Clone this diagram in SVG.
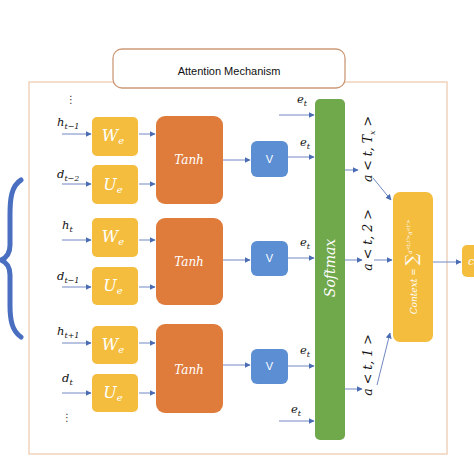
<svg xmlns="http://www.w3.org/2000/svg" width="474" height="474" viewBox="0 0 474 474">
<defs>
<marker id="ah" viewBox="0 0 10 10" refX="9" refY="5" markerWidth="6" markerHeight="6" markerUnits="userSpaceOnUse" orient="auto"><path d="M0,0 L10,5 L0,10 z" fill="#4a6cb3"/></marker>
<style>
.ar{stroke:#7088c2;stroke-width:1;fill:none;marker-end:url(#ah)}
.y{fill:#f4bd3e}
.o{fill:#df7c3c}
.b{fill:#5b8ed3}
.g{fill:#70a84c}
.wt{fill:#fff;font-family:"DejaVu Serif","Liberation Serif",serif;font-style:italic;text-anchor:middle}
.lb{fill:#111;font-family:"DejaVu Serif","Liberation Serif",serif;font-style:italic;font-size:11.5px}
.rl{fill:#111;font-family:"DejaVu Serif","Liberation Serif",serif;font-style:italic;font-size:12.5px;text-anchor:middle}
.dt{fill:#333;font-family:"DejaVu Sans",sans-serif;font-size:10px}
</style>
</defs>
<rect width="474" height="474" fill="#fff"/>
<!-- brace -->
<path d="M21 180 C11 186 10 200 10 215 L10 245 C10 254 6 258 1 260 C6 262 10 266 10 275 L10 305 C10 320 12 331 21 337" fill="none" stroke="#4a6fc1" stroke-width="5" stroke-linecap="round"/>
<!-- outer frame -->
<rect x="29" y="82" width="418" height="372" fill="none" stroke="#efd2bd" stroke-width="1.5"/>
<g id="title"><rect x="113" y="49" width="232" height="39" rx="9" fill="#fff" stroke="#cd9a78" stroke-width="1.3"/>
<text x="229" y="75" font-family="Liberation Sans,Arial,sans-serif" font-size="11" text-anchor="middle" fill="#111">Attention Mechanism</text></g>
<text class="dt" x="66" y="103">⋮</text>
<text class="dt" x="62" y="421">⋮</text>
<g id="connectors">
<path class="ar" d="M62 134 H91"/><path class="ar" d="M62 184 H91"/>
<path class="ar" d="M139 134 H155"/><path class="ar" d="M139 184 H155"/>
<path class="ar" d="M223 160 H250"/><path class="ar" d="M288 157 H314"/>
<path class="ar" d="M279 115 H314"/>
<path class="ar" d="M62 240 H91"/><path class="ar" d="M62 287 H91"/>
<path class="ar" d="M139 240 H155"/><path class="ar" d="M139 287 H155"/>
<path class="ar" d="M223 260 H250"/><path class="ar" d="M288 258 H314"/>
<path class="ar" d="M62 343 H91"/><path class="ar" d="M62 393 H91"/>
<path class="ar" d="M139 343 H155"/><path class="ar" d="M139 393 H155"/>
<path class="ar" d="M223 365 H250"/><path class="ar" d="M288 366 H314"/>
<path class="ar" d="M279 421 H314"/>
<path class="ar" d="M345 170 H358"/><path class="ar" d="M373 178 L391 200"/>
<path class="ar" d="M345 260 H362"/><path class="ar" d="M374 260 H392"/>
<path class="ar" d="M345 389 H362"/><path class="ar" d="M377 385 L390 333"/>
<path class="ar" d="M433 262 H461"/>
</g>
<!-- labels -->
<text class="lb" x="57" y="126">h<tspan font-size="8" dy="3">t−1</tspan></text>
<text class="lb" x="57" y="178">d<tspan font-size="8" dy="3">t−2</tspan></text>
<text class="lb" x="62" y="229">h<tspan font-size="8" dy="3">t</tspan></text>
<text class="lb" x="57" y="280">d<tspan font-size="8" dy="3">t−1</tspan></text>
<text class="lb" x="57" y="335">h<tspan font-size="8" dy="3">t+1</tspan></text>
<text class="lb" x="62" y="382">d<tspan font-size="8" dy="3">t</tspan></text>
<text class="lb" x="297" y="103">e<tspan font-size="8" dy="3">t</tspan></text>
<text class="lb" x="300" y="146">e<tspan font-size="8" dy="3">t</tspan></text>
<text class="lb" x="300" y="246">e<tspan font-size="8" dy="3">t</tspan></text>
<text class="lb" x="300" y="354">e<tspan font-size="8" dy="3">t</tspan></text>
<text class="lb" x="291" y="413">e<tspan font-size="8" dy="3">t</tspan></text>
<text class="rl" transform="translate(372,149) rotate(-90)">a &lt; t, T<tspan font-size="8" dy="3">x</tspan><tspan dy="-3"> &gt;</tspan></text>
<text class="rl" transform="translate(372,240) rotate(-90)">a &lt; t, 2 &gt;</text>
<text class="rl" transform="translate(372,365) rotate(-90)">a &lt; t, 1 &gt;</text>
<!-- row 1 -->
<g id="We1"><rect class="y" x="92" y="117" width="46" height="39" rx="5"/><text class="wt" x="113" y="141" font-size="16">W<tspan font-size="10" dy="3">e</tspan></text></g>
<g id="Ue1"><rect class="y" x="92" y="165" width="46" height="39" rx="5"/><text class="wt" x="113" y="190" font-size="16">U<tspan font-size="10" dy="3">e</tspan></text></g>
<g id="Tanh1"><rect class="o" x="156" y="116" width="67" height="88" rx="9"/><text class="wt" x="189" y="164" font-size="12">Tanh</text></g>
<g id="V1"><rect class="b" x="251" y="141" width="37" height="36" rx="6"/><text x="269.5" y="163" font-family="Liberation Sans,Arial,sans-serif" font-size="11" fill="#fff" text-anchor="middle">V</text></g>
<!-- row 2 -->
<g id="We2"><rect class="y" x="92" y="218" width="46" height="39" rx="5"/><text class="wt" x="113" y="242" font-size="16">W<tspan font-size="10" dy="3">e</tspan></text></g>
<g id="Ue2"><rect class="y" x="92" y="267" width="46" height="38" rx="5"/><text class="wt" x="113" y="291" font-size="16">U<tspan font-size="10" dy="3">e</tspan></text></g>
<g id="Tanh2"><rect class="o" x="156" y="218" width="67" height="87" rx="9"/><text class="wt" x="189" y="266" font-size="12">Tanh</text></g>
<g id="V2"><rect class="b" x="251" y="241" width="37" height="35" rx="6"/><text x="269.5" y="262" font-family="Liberation Sans,Arial,sans-serif" font-size="11" fill="#fff" text-anchor="middle">V</text></g>
<!-- row 3 -->
<g id="We3"><rect class="y" x="92" y="326" width="46" height="38" rx="5"/><text class="wt" x="113" y="350" font-size="16">W<tspan font-size="10" dy="3">e</tspan></text></g>
<g id="Ue3"><rect class="y" x="92" y="374" width="46" height="38" rx="5"/><text class="wt" x="113" y="398" font-size="16">U<tspan font-size="10" dy="3">e</tspan></text></g>
<g id="Tanh3"><rect class="o" x="156" y="324" width="67" height="89" rx="9"/><text class="wt" x="189" y="374" font-size="12">Tanh</text></g>
<g id="V3"><rect class="b" x="251" y="349" width="37" height="35" rx="6"/><text x="269.5" y="370" font-family="Liberation Sans,Arial,sans-serif" font-size="11" fill="#fff" text-anchor="middle">V</text></g>
<!-- softmax -->
<g id="Softmax"><rect class="g" x="315" y="99" width="30" height="341" rx="5"/><text class="wt" transform="translate(335,268) rotate(-90)" font-size="14">Softmax</text></g>
<!-- context -->
<g id="Context"><rect class="y" x="393" y="192" width="40" height="150" rx="7"/>
<text class="wt" transform="translate(417,267) rotate(-90)" font-size="9">Context = <tspan font-size="16" font-style="normal">∑</tspan><tspan font-size="6" dy="-5">a</tspan><tspan font-size="5" dy="-2">&lt;t,t'&gt;</tspan><tspan font-size="6" dy="2">a</tspan><tspan font-size="5" dy="-2">&lt;t'&gt;</tspan></text></g>
<g id="Output"><rect class="y" x="462" y="245" width="20" height="32" rx="5"/><text class="wt" x="471" y="265" font-size="11">c</text></g>
</svg>
